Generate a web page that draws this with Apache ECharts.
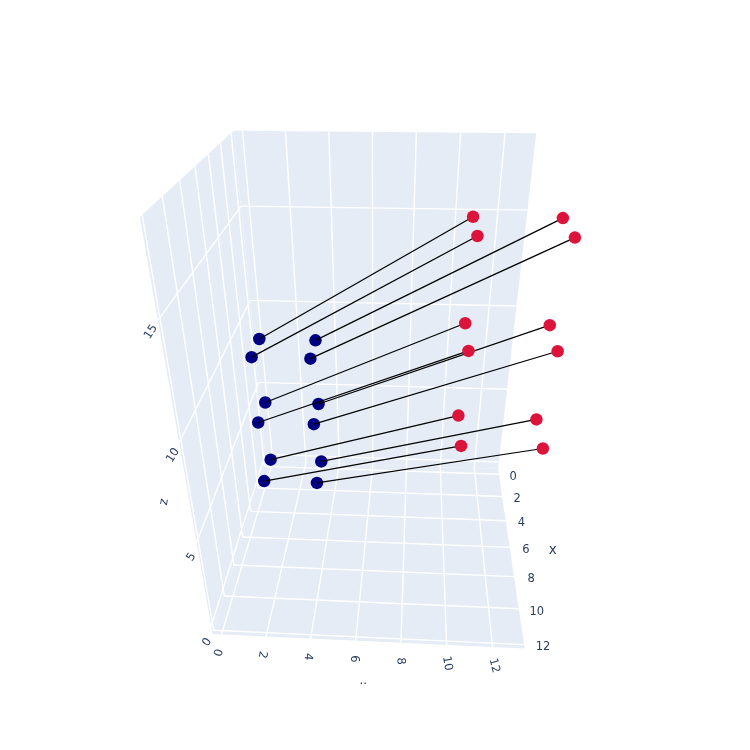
<!DOCTYPE html>
<html><head><meta charset="utf-8"><style>html,body{margin:0;background:#fff}#c{width:750px;height:750px}</style>
<script src="https://cdn.jsdelivr.net/npm/echarts@6/dist/echarts.min.js"></script></head><body><div id="c"></div>
<script>
// Tick values of the three scene axes
const xTicks=[0,2,4,6,8,10,12];
const yTicks=[0,2,4,6,8,10,12];
const zTicks=[0,5,10,15];
// Series values (start points, dark blue)
const blueX=[0,2,0,2,0,2,0,2,0,2,0,2];
const blueY=[0,0,3,3,0,0,3,3,0,0,3,3];
const blueZ=[8,8,8,8,4,4,4,4,0,0,0,0];
// Series values (end points, crimson)
const redX=[0,3,0,3,0,3,0,3,0,3,0,3];
const redY=[10.8,10.8,15,15,10.8,10.8,15.1,15,10.8,10.8,15.1,15];
const redZ=[14.8,14.9,14.8,14.9,9.2,9.2,9.2,9.3,3.5,3.6,3.4,3.6];
// Extent of the scene box
const xRange=[-0.5,12.21], yRange=[-0.41,13.39], zRange=[-0.51,18.53];
// Perspective camera as a 3x4 projection matrix
const cam=[-8.623859,16.467635,-4.615358,270.642986,0.879186,-0.026924,-19.270486,459.703906,-0.020424,-0.001269,-0.01234];
const proj=(x,y,z)=>{const w=cam[8]*x+cam[9]*y+cam[10]*z+1;return[(cam[0]*x+cam[1]*y+cam[2]*z+cam[3])/w,(cam[4]*x+cam[5]*y+cam[6]*z+cam[7])/w];};

const TXT='#2a3f5f',FONT='"DejaVu Sans",Verdana,sans-serif';
const [x0,x1]=xRange,[y0,y1]=yRange,[z0,z1]=zRange;
const panes=[
 [[x0,y0,z0],[x1,y0,z0],[x1,y1,z0],[x0,y1,z0]],
 [[x0,y0,z0],[x0,y1,z0],[x0,y1,z1],[x0,y0,z1]],
 [[x0,y0,z0],[x1,y0,z0],[x1,y0,z1],[x0,y0,z1]]
].map(q=>q.map(p=>proj(...p)));
const segs=[];
const add=(a,b)=>segs.push([proj(...a),proj(...b)]);
xTicks.forEach(x=>{add([x,y0,z0],[x,y1,z0]);add([x,y0,z0],[x,y0,z1]);});
yTicks.forEach(y=>{add([x0,y,z0],[x1,y,z0]);add([x0,y,z0],[x0,y,z1]);});
zTicks.forEach(z=>{add([x0,y0,z],[x0,y1,z]);add([x0,y0,z],[x1,y0,z]);});
const labels=[];
xTicks.forEach(x=>{const p=proj(x,y1+0.8,z0);labels.push({t:String(x),p:[p[0]+0.5,p[1]+2],r:0,s:11.5});});
yTicks.forEach(y=>{const p=proj(x1+0.85,y,z0);labels.push({t:String(y),p:[p[0],p[1]+2],r:-(105-2.5*y),s:11.5});});
zTicks.forEach(z=>{const p=proj(x1,y0,z);labels.push({t:String(z),p:[p[0]-4-0.2*z,p[1]+16-0.3*z],r:57,s:11.5});});
// Axis titles sit outside the box, placed by projecting beyond its edges
const xt=proj(6,y1+2,z0),zt=proj(x1,y0-1.1,7.6),yt=proj(x1+2.1,6.4,z0);
labels.push({t:'x',p:[xt[0]+3.5,xt[1]+2],r:0,s:13.5},{t:'z',p:[zt[0]+4,zt[1]+10],r:80,s:12.5},{t:'..',p:[yt[0]+2,yt[1]-2],r:0,s:12});

const bluePts=blueX.map((x,i)=>proj(x,blueY[i],blueZ[i]));
const redPts=redX.map((x,i)=>proj(x,redY[i],redZ[i]));
const lineSeries=bluePts.map((b,i)=>({type:'line',data:[b,redPts[i]],symbol:'none',silent:true,z:4,lineStyle:{color:'#000',width:1.25},animation:false}));

const chart=echarts.init(document.getElementById('c'),null,{renderer:'canvas'});
chart.setOption({
 animation:false,backgroundColor:'#fff',
 grid:{left:0,right:0,top:0,bottom:0},
 xAxis:{type:'value',min:0,max:750,show:false},
 yAxis:{type:'value',min:0,max:750,inverse:true,show:false},
 series:[
  {type:'custom',z:1,silent:true,coordinateSystem:'cartesian2d',data:panes.map((_,i)=>i),encode:{x:[],y:[]},clip:false,
   renderItem:(_,api)=>({type:'polygon',shape:{points:panes[api.value(0)].map(p=>api.coord(p))},style:{fill:'#e5ecf6'}})},
  {type:'custom',z:2,silent:true,data:segs.map((_,i)=>i),encode:{x:[],y:[]},clip:false,
   renderItem:(_,api)=>{const s=segs[api.value(0)],a=api.coord(s[0]),b=api.coord(s[1]);
    return{type:'line',shape:{x1:a[0],y1:a[1],x2:b[0],y2:b[1]},style:{stroke:'#fff',lineWidth:1.4}};}},
  {type:'custom',z:6,silent:true,data:labels.map((_,i)=>i),encode:{x:[],y:[]},clip:false,
   renderItem:(_,api)=>{const l=labels[api.value(0)],c=api.coord(l.p);
    return{type:'text',x:c[0],y:c[1],rotation:l.r*Math.PI/180,style:{text:l.t,fill:TXT,font:l.s+'px '+FONT,align:'center',verticalAlign:'middle'}};}},
  {type:'scatter',z:3,data:bluePts,symbolSize:12.5,itemStyle:{color:'#000080',opacity:1},silent:true},
  ...lineSeries,
  {type:'scatter',z:5,data:redPts,symbolSize:12.5,itemStyle:{color:'#dc143c',opacity:1},silent:true}
 ]
});
</script></body></html>
